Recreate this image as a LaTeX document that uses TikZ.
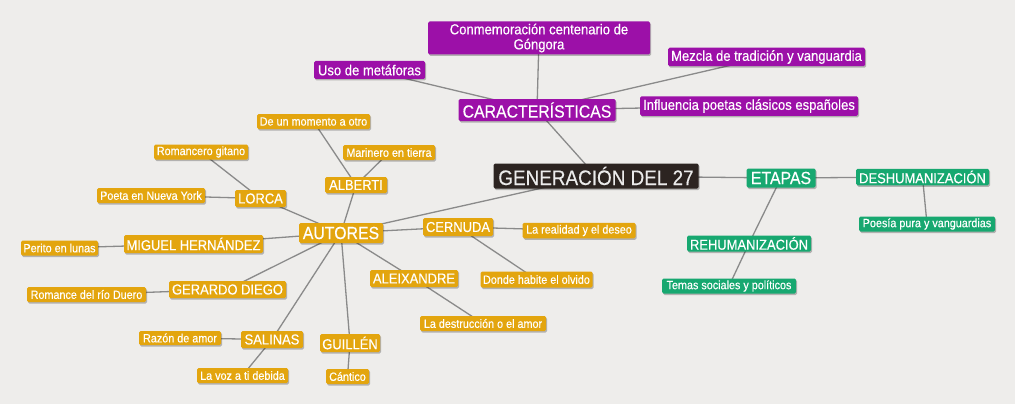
\documentclass[tikz,border=0pt]{standalone}
\usepackage{fontspec}
\setmainfont{Liberation Sans}[FakeStretch=0.9,FakeBold=0.35]
\usetikzlibrary{shadows}
\pgfdeclarelayer{bg}
\pgfsetlayers{bg,main}
\definecolor{bgc}{HTML}{EEEDEB}
\definecolor{orng}{HTML}{E3A50E}
\definecolor{purp}{HTML}{9C10A8}
\definecolor{grn}{HTML}{17A870}
\definecolor{dark}{HTML}{2C2421}
\definecolor{linec}{HTML}{8A8A8A}
\tikzset{
  box/.style={rectangle, rounded corners=1.5pt, inner sep=0pt, text=white, align=center,
    drop shadow={shadow xshift=1pt, shadow yshift=-1.5pt, opacity=0.25, fill=black}},
  ob/.style={box, fill=orng},
  pb/.style={box, fill=purp},
  gb/.style={box, fill=grn},
  db/.style={box, fill=dark, text=white!92!black},
  fs/.style={font=\fontsize{12}{14}\selectfont},
  fm/.style={font=\fontsize{14.4}{16}\selectfont},
  fp/.style={font=\fontsize{14.5}{15}\selectfont},
  fl/.style={font=\fontsize{17.6}{19}\selectfont},
  fx/.style={font=\fontsize{21}{23}\selectfont},
  link/.style={draw=linec, line width=1.3pt}
}
\begin{document}
\begin{tikzpicture}[x=1pt,y=-1pt]
\useasboundingbox (0,0) rectangle (1015,404);
% purple
\node[pb,fp,minimum width=222pt,minimum height=33pt] (conm) at (539,38) {Conmemoración centenario de\\Góngora};
\node[pb,fp,minimum width=111pt,minimum height=18pt] (uso) at (369.5,70) {Uso de metáforas};
\node[pb,fp,minimum width=197pt,minimum height=18.5pt] (mezcla) at (766.5,57) {Mezcla de tradición y vanguardia};
\node[pb,fl,minimum width=157pt,minimum height=22pt] (carac) at (537,110) {CARACTERÍSTICAS};
\node[pb,fp,minimum width=218pt,minimum height=19.5pt] (infl) at (749,106) {Influencia poetas clásicos españoles};
% center
\node[db,fx,minimum width=205pt,minimum height=25pt] (gen) at (596,176) {GENERACIÓN DEL 27};
% green
\node[gb,fl,minimum width=69pt,minimum height=19pt] (etapas) at (781,178) {ETAPAS};
\node[gb,fm,minimum width=133pt,minimum height=16.5pt] (deshum) at (922.5,177) {DESHUMANIZACIÓN};
\node[gb,fs,minimum width=136pt,minimum height=15pt] (poesia) at (927,224) {Poesía pura y vanguardias};
\node[gb,fm,minimum width=124pt,minimum height=16pt] (rehum) at (749,243.5) {REHUMANIZACIÓN};
\node[gb,fs,minimum width=134pt,minimum height=15pt] (temas) at (729,286) {Temas sociales y políticos};
% orange
\node[ob,fs,minimum width=113pt,minimum height=15pt] (momento) at (313.5,121.5) {De un momento a otro};
\node[ob,fs,minimum width=94pt,minimum height=15pt] (romancero) at (201,152) {Romancero gitano};
\node[ob,fs,minimum width=92pt,minimum height=15pt] (marinero) at (389,152.5) {Marinero en tierra};
\node[ob,fm,minimum width=62pt,minimum height=16pt] (alberti) at (356,185) {ALBERTI};
\node[ob,fm,minimum width=51pt,minimum height=17pt] (lorca) at (260.5,198.5) {LORCA};
\node[ob,fs,minimum width=108pt,minimum height=15pt] (poeta) at (151,195.5) {Poeta en Nueva York};
\node[ob,fl,minimum width=84pt,minimum height=20pt] (autores) at (341,233) {AUTORES};
\node[ob,fm,minimum width=70pt,minimum height=18pt] (cernuda) at (458,227) {CERNUDA};
\node[ob,fs,minimum width=113pt,minimum height=15.5pt] (realidad) at (579,230.5) {La realidad y el deseo};
\node[ob,fm,minimum width=139pt,minimum height=18pt] (miguel) at (193.5,244) {MIGUEL HERNÁNDEZ};
\node[ob,fs,minimum width=77pt,minimum height=15pt] (perito) at (59.5,248) {Perito en lunas};
\node[ob,fm,minimum width=88pt,minimum height=17pt] (alex) at (414,278.5) {ALEIXANDRE};
\node[ob,fs,minimum width=112pt,minimum height=16pt] (donde) at (536.5,279.5) {Donde habite el olvido};
\node[ob,fs,minimum width=126pt,minimum height=15pt] (destr) at (483,323.5) {La destrucción o el amor};
\node[ob,fm,minimum width=117pt,minimum height=17pt] (gerardo) at (227.5,289.5) {GERARDO DIEGO};
\node[ob,fs,minimum width=119pt,minimum height=15pt] (romance) at (86.5,294.5) {Romance del río Duero};
\node[ob,fm,minimum width=62pt,minimum height=17pt] (salinas) at (272,339.5) {SALINAS};
\node[ob,fs,minimum width=82pt,minimum height=14pt] (razon) at (180,338) {Razón de amor};
\node[ob,fs,minimum width=91pt,minimum height=15pt] (voz) at (242.5,375.5) {La voz a ti debida};
\node[ob,fm,minimum width=60pt,minimum height=18pt] (guillen) at (350,343) {GUILLÉN};
\node[ob,fs,minimum width=43pt,minimum height=15pt] (cantico) at (347.5,376.5) {Cántico};
% background and links
\begin{pgfonlayer}{bg}
\fill[bgc] (0,0) rectangle (1015,404);
\foreach \a/\b in {carac/conm, carac/uso, carac/mezcla, carac/infl, carac/gen,
  gen/autores, gen/etapas, etapas/deshum, deshum/poesia, etapas/rehum, rehum/temas,
  autores/alberti, alberti/momento, alberti/marinero, autores/lorca, lorca/romancero, lorca/poeta,
  autores/miguel, miguel/perito, autores/cernuda, cernuda/realidad, cernuda/donde,
  autores/alex, alex/destr, autores/gerardo, gerardo/romance, autores/salinas, salinas/razon,
  salinas/voz, autores/guillen, guillen/cantico}
  \draw[link] (\a.center) -- (\b.center);
\end{pgfonlayer}
\end{tikzpicture}
\end{document}
